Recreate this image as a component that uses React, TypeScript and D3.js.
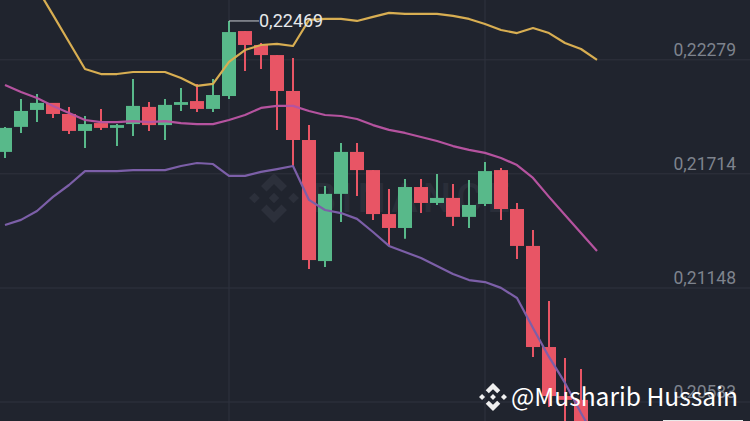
import React, { useEffect, useRef } from 'react'
import * as d3 from 'd3'

const opens = [
  0.2182, 0.21944, 0.22028, 0.22063, 0.22008, 0.21924, 0.21963, 0.21939, 0.21958, 0.22043,
  0.21953, 0.22053, 0.22072, 0.22033, 0.22097, 0.22419, 0.2235, 0.223, 0.22122, 0.21879,
  0.21279, 0.21612, 0.2182, 0.2173, 0.21512, 0.21443, 0.21646, 0.21567, 0.21592, 0.21498,
  0.21562, 0.2173, 0.21537, 0.21354, 0.20853, 0.2061, 0.20591,
]
const highs = [
  0.21944, 0.22082, 0.22107, 0.22063, 0.22043, 0.21998, 0.22033, 0.21958, 0.22181, 0.22067,
  0.22082, 0.22137, 0.22157, 0.22181, 0.22469, 0.22419, 0.2236, 0.223, 0.22286, 0.21953,
  0.21651, 0.21864, 0.21864, 0.2173, 0.21636, 0.21686, 0.21686, 0.21711, 0.21661, 0.21681,
  0.2177, 0.2174, 0.21567, 0.21433, 0.21081, 0.20799, 0.20744,
]
const lows = [
  0.2179, 0.21914, 0.21968, 0.21988, 0.21909, 0.21839, 0.21929, 0.21849, 0.21899, 0.21924,
  0.21879, 0.22023, 0.22018, 0.22018, 0.22082, 0.22221, 0.22231, 0.21929, 0.21745, 0.2124,
  0.2125, 0.21473, 0.21602, 0.21483, 0.21354, 0.21389, 0.21517, 0.21557, 0.21453, 0.21443,
  0.21552, 0.21483, 0.21289, 0.20804, 0.20556, 0.20392, 0.20368,
]
const closes = [
  0.21939, 0.22023, 0.22063, 0.22008, 0.21924, 0.21958, 0.21939, 0.21953, 0.22048, 0.21953,
  0.22053, 0.22067, 0.22033, 0.22102, 0.22414, 0.2235, 0.223, 0.22122, 0.21879, 0.21284,
  0.21612, 0.2182, 0.2173, 0.21512, 0.21443, 0.21646, 0.21567, 0.21592, 0.21498, 0.21557,
  0.21725, 0.21537, 0.21354, 0.20853, 0.2061, 0.20591, 0.20392,
]

// bollinger bands, one value per slot (upper is off the top for the first two)
const upper = [
  null, null, 0.22632, 0.22499, 0.22365, 0.22231, 0.22206, 0.22206, 0.22216, 0.22216,
  0.22216, 0.22186, 0.22147, 0.22157, 0.22266, 0.22325, 0.2235, 0.22355, 0.22345, 0.22474,
  0.22479, 0.22479, 0.22469, 0.22489, 0.22509, 0.22504, 0.22504, 0.22504, 0.22494, 0.22479,
  0.22454, 0.22424, 0.22409, 0.22434, 0.22409, 0.2236, 0.2233, 0.22276,
]
const middle = [
  0.22152, 0.22117, 0.22087, 0.22048, 0.22013, 0.21978, 0.21968, 0.21968, 0.21973, 0.21968,
  0.21973, 0.21963, 0.21958, 0.21958, 0.21978, 0.22003, 0.22038, 0.22048, 0.22048, 0.22023,
  0.22003, 0.21998, 0.21983, 0.21953, 0.21929, 0.21914, 0.21894, 0.21874, 0.21849, 0.2183,
  0.21815, 0.2179, 0.21755, 0.21691, 0.21597, 0.21507, 0.21418, 0.21329,
]
const lower = [
  0.21458, 0.21483, 0.21527, 0.21597, 0.21656, 0.21725, 0.21725, 0.21725, 0.2173, 0.2173,
  0.2173, 0.2175, 0.21765, 0.2176, 0.21701, 0.21701, 0.21721, 0.21735, 0.2175, 0.21582,
  0.21532, 0.21517, 0.21488, 0.21423, 0.21354, 0.21324, 0.21294, 0.21255, 0.21215, 0.21185,
  0.21175, 0.21146, 0.21096, 0.20947, 0.20804, 0.20675, 0.20526, 0.20387,
]

const priceTicks = [0.22279, 0.21714, 0.21148, 0.20583]
const timeGridSlots = [14, 30]
const peakSlot = 14
const peakPrice = 0.22469

const bg = '#20242e'
const gridColor = '#2f333e'
const green = '#58b98a'
const red = '#e85565'

const commaFormat = (v: number) => d3.format('.5f')(v).replace('.', ',')

// binance mark: centre square plus four chevrons, drawn in a unit of r = 1
const logoPath = (r: number) => {
  const p = (pts: number[][]) =>
    'M' + pts.map((q) => `${q[0] * r},${q[1] * r}`).join('L') + 'Z'
  const chevron = [
    [0, -1],
    [0.52, -0.48],
    [0.3, -0.26],
    [0, -0.56],
    [-0.3, -0.26],
    [-0.52, -0.48],
  ]
  const flip = chevron.map((q) => [q[0], -q[1]])
  return [
    p(chevron),
    p(flip),
    p([[0, -0.21], [0.21, 0], [0, 0.21], [-0.21, 0]]),
    p([[-0.78, -0.21], [-0.57, 0], [-0.78, 0.21], [-1, 0]]),
    p([[0.78, -0.21], [1, 0], [0.78, 0.21], [0.57, 0]]),
  ].join('')
}

export default function App(): React.ReactElement {
  const chartRef = useRef<HTMLDivElement>(null)

  useEffect(() => {
    const width = 750
    const height = 421

    d3.select('body').style('margin', 0).style('background', bg)

    const x = d3.scaleLinear().domain([0, 1]).range([5, 21])
    const y = d3.scaleLinear().domain([0.22279, 0.20583]).range([59.3, 401.5])

    d3.select(chartRef.current).select('svg').remove()

    const svg = d3
      .select(chartRef.current)
      .append('svg')
      .attr('width', width)
      .attr('height', height)
      .attr('viewBox', `0 0 ${width} ${height}`)
      .style('display', 'block')
      .style('background', bg)

    svg
      .append('g')
      .attr('stroke', gridColor)
      .selectAll('line')
      .data(timeGridSlots)
      .join('line')
      .attr('x1', (d) => x(d))
      .attr('x2', (d) => x(d))
      .attr('y1', 0)
      .attr('y2', height)

    svg
      .append('g')
      .call(
        d3
          .axisRight(y)
          .tickValues(priceTicks)
          .tickSize(width)
          .tickFormat((d) => commaFormat(+d))
      )
      .call((g) => g.select('.domain').remove())
      .call((g) => g.selectAll('.tick line').attr('stroke', gridColor))
      .call((g) =>
        g
          .selectAll('.tick text')
          .attr('x', 736)
          .attr('dy', -4)
          .attr('text-anchor', 'end')
          .attr('fill', '#7e838d')
          .attr('font-size', 17.5)
          .attr('font-family', 'Roboto, sans-serif')
      )

    // watermark sits under the candles
    svg
      .append('path')
      .attr('transform', 'translate(274,198)')
      .attr('d', logoPath(25))
      .attr('fill', '#2c303b')
    svg
      .append('text')
      .attr('x', 311)
      .attr('y', 212)
      .attr('font-family', 'Roboto, sans-serif')
      .attr('font-size', 40)
      .attr('font-weight', 500)
      .attr('letter-spacing', 5)
      .attr('fill', '#2a2e39')
      .text('BINANCE')

    const candles = opens.map((open, i) => ({
      i,
      open,
      close: closes[i],
      high: highs[i],
      low: lows[i],
    }))
    const candleColor = (d: { open: number; close: number }) =>
      d.close >= d.open ? green : red

    svg
      .append('g')
      .attr('stroke-width', 2)
      .selectAll('line')
      .data(candles)
      .join('line')
      .attr('x1', (d) => x(d.i))
      .attr('x2', (d) => x(d.i))
      .attr('y1', (d) => y(d.high))
      .attr('y2', (d) => y(d.low))
      .attr('stroke', candleColor)

    svg
      .append('g')
      .selectAll('rect')
      .data(candles)
      .join('rect')
      .attr('x', (d) => x(d.i) - 7)
      .attr('width', 14)
      .attr('y', (d) => y(Math.max(d.open, d.close)))
      .attr('height', (d) => Math.abs(y(d.open) - y(d.close)))
      .attr('fill', candleColor)

    const bandLine = d3
      .line<number | null>()
      .defined((d) => d !== null)
      .x((_, i) => x(i))
      .y((d) => y(d as number))

    const bands: [(number | null)[], string][] = [
      [upper, '#d8ae52'],
      [middle, '#b5539f'],
      [lower, '#7c5fa8'],
    ]
    svg
      .append('g')
      .attr('fill', 'none')
      .attr('stroke-width', 2.2)
      .attr('stroke-linejoin', 'round')
      .selectAll('path')
      .data(bands)
      .join('path')
      .attr('d', (d) => bandLine(d[0]))
      .attr('stroke', (d) => d[1])

    // peak marker
    svg
      .append('line')
      .attr('x1', x(peakSlot))
      .attr('x2', x(peakSlot) + 30)
      .attr('y1', y(peakPrice))
      .attr('y2', y(peakPrice))
      .attr('stroke', '#c9ccd1')
      .attr('stroke-width', 1)
    svg
      .append('text')
      .attr('x', x(peakSlot) + 30)
      .attr('y', y(peakPrice) + 6.5)
      .attr('font-family', 'Roboto, sans-serif')
      .attr('font-size', 18)
      .attr('fill', '#e6e8ea')
      .text(commaFormat(peakPrice))

    // author overlay
    svg
      .append('path')
      .attr('transform', 'translate(493,397)')
      .attr('d', logoPath(14))
      .attr('fill', '#f0f0f0')
    svg
      .append('text')
      .attr('x', 511)
      .attr('y', 406)
      .attr('font-family', '"Noto Sans CJK SC", "Noto Sans", sans-serif')
      .attr('font-size', 24.6)
      .attr('fill', '#ffffff')
      .text('@Musharib Hussain')
    svg
      .append('rect')
      .attr('x', 663)
      .attr('y', 420)
      .attr('width', 80)
      .attr('height', 1)
      .attr('fill', '#e8e8e8')
  }, [])

  return <div ref={chartRef}></div>
}
